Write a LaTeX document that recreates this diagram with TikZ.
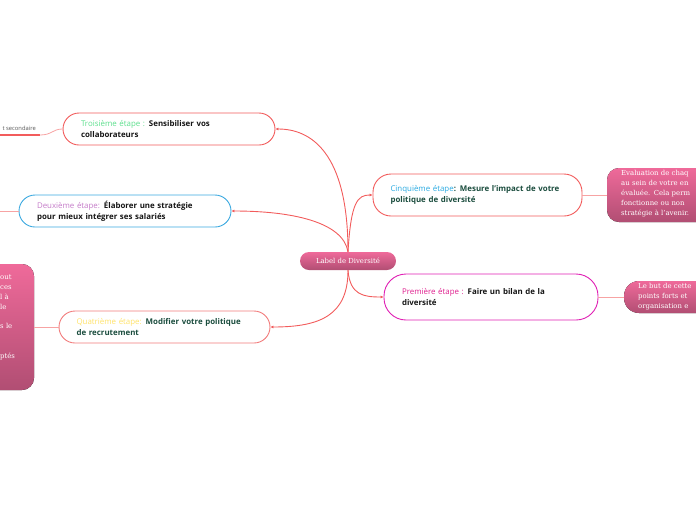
\documentclass[tikz,border=0pt]{standalone}
\usepackage{fontspec}
\setmainfont{Open Sans}
\newfontfamily\boxserif{DejaVu Serif}
\usetikzlibrary{arrows.meta}
\definecolor{conn}{HTML}{F25C5C}
\definecolor{lightconn}{HTML}{F7A3A3}
\definecolor{pinktop}{HTML}{EF6A9A}
\definecolor{pinkbot}{HTML}{B14E73}
\definecolor{bluebd}{HTML}{3BA9E0}
\definecolor{redbd}{HTML}{F25C5C}
\definecolor{red2bd}{HTML}{F27C7C}
\definecolor{magbd}{HTML}{E020B4}
\definecolor{lgreen}{HTML}{5EE08E}
\definecolor{lpurple}{HTML}{C57CC9}
\definecolor{lyellow}{HTML}{FFE36A}
\definecolor{lblue}{HTML}{2AAAE2}
\definecolor{lmag}{HTML}{E0208F}
\definecolor{dgreen}{HTML}{1B4D3E}
\definecolor{dark}{HTML}{151515}
\definecolor{greytxt}{HTML}{555555}
\tikzset{
  pill/.style={draw, line width=0.9pt, fill=white, align=left, inner xsep=0pt, inner ysep=0pt,
    font=\fontsize{7.9}{11}\selectfont},
  conline/.style={draw=conn, line width=0.9pt, -{Latex[length=3pt,width=3pt]}},
  thinline/.style={draw=lightconn, line width=0.8pt},
  pinkbox/.style={top color=pinktop, bottom color=pinkbot, draw=none},
  boxtxt/.style={text=white, font=\boxserif\fontsize{6.9}{9.8}\selectfont, align=left,
    text width=110pt, inner sep=0pt, anchor=north west},
}
\begin{document}
\begin{tikzpicture}[x=1pt,y=-1pt]
\useasboundingbox (0,0) rectangle (696,520);
\begin{scope}
\clip (0,0) rectangle (696,520);
% pink side boxes
\fill[pinkbox, rounded corners=12pt] (-20,264) rectangle (34,390);
\node[boxtxt] (lb) at (0,275) {out\\ces\\l à\\le\\[9.8pt]s le\\[19.6pt]ptés};
\fill[pinkbox, rounded corners=12pt] (607,168) rectangle (720,222);
\node[boxtxt] (rb1) at (621,170.5) {Evaluation de chaq\\au sein de votre en\\évaluée. Cela perm\\fonctionne ou non\\stratégie à l’avenir.};
\fill[pinkbox, rounded corners=15pt] (624,281) rectangle (720,313);
\node[boxtxt] (rb2) at (638,283) {Le but de cette\\points forts et\\organisation e};
% secondary topic
\node[text=greytxt, font=\fontsize{5.8}{6}\selectfont, anchor=east, inner sep=0pt] (sec) at (36,128) {t secondaire};
\coordinate (s0) at (0,135);
\coordinate (s1) at (40,135);
\draw[conn, line width=2pt] (s0) -- (s1);
\coordinate (dl) at (0,211);
\coordinate (ql) at (34,327);
\coordinate (fr) at (607,195);
\coordinate (pr) at (624,297);
% main pills
\node[pill, draw=redbd, minimum width=212pt, minimum height=32pt, rounded corners=16pt,
  text width=176pt] (t) at (169,129)
  {{\color{lgreen}Troisième étape :} \textbf{\color{dark}Sensibiliser vos}\\\textbf{\color{dark}collaborateurs}};
\node[pill, draw=bluebd, minimum width=212pt, minimum height=32pt, rounded corners=16pt,
  text width=176pt] (d) at (125,211)
  {{\color{lpurple}Deuxième étape:} \textbf{\color{dark}Élaborer une stratégie}\\\textbf{\color{dark}pour mieux intégrer ses salariés}};
\node[pill, draw=red2bd, minimum width=211pt, minimum height=32pt, rounded corners=16pt,
  text width=176pt] (q) at (164.5,327)
  {{\color{lyellow}Quatrième étape:} \textbf{\color{dgreen}Modifier votre politique}\\\textbf{\color{dgreen}de recrutement}};
\node[pill, draw=redbd, minimum width=209pt, minimum height=42pt, rounded corners=18pt,
  text width=174pt] (f) at (477.5,195)
  {{\color{lblue}Cinquième étape}\textbf{\color{dgreen}: Mesure l’impact de votre}\\\textbf{\color{dgreen}politique de diversité}};
\node[pill, draw=magbd, minimum width=214pt, minimum height=46pt, rounded corners=22pt,
  text width=178pt] (p) at (491,297)
  {{\color{lmag}Première étape :} \textbf{\color{dark}Faire un bilan de la}\\\textbf{\color{dark}diversité}};
% center
\node[pinkbox, rounded corners=9pt, minimum width=96pt, minimum height=18pt, inner sep=0pt,
  text=white, font=\boxserif\fontsize{6.9}{8}\selectfont] (c) at (348,261) {Label de Diversité};
% connectors
\draw[thinline] (s1) .. controls +(12,0) and +(-10,0) .. (t.west);
\draw[thinline] (d.west) -- (dl);
\draw[thinline] (q.west) -- (ql);
\draw[thinline] (f.east) -- (fr);
\draw[thinline] (p.east) -- (pr);
\draw[conline] (c.north) .. controls +(0,-100) and +(35,0) .. (t.east);
\draw[conline] (c.north) .. controls +(-5,-30) and +(60,0) .. (d.east);
\draw[conline] (c.south) .. controls +(0,45) and +(50,0) .. (q.east);
\draw[conline] (c.north) .. controls +(3,-50) and +(-15,0) .. (f.west);
\draw[conline] (c.south) .. controls +(2,25) and +(-20,0) .. (p.west);
\end{scope}
\end{tikzpicture}
\end{document}
